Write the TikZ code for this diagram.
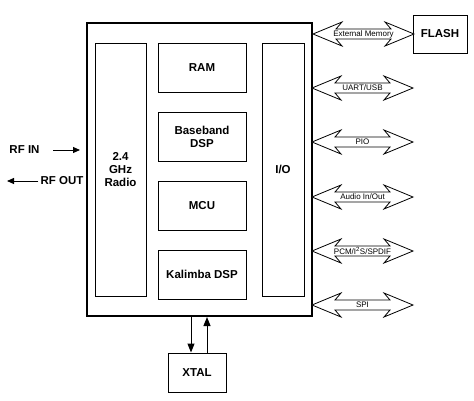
\documentclass[tikz,border=0pt]{standalone}
\usepackage{fontspec}
\setmainfont{Liberation Sans}
\usetikzlibrary{positioning,arrows.meta}

\begin{document}
\begin{tikzpicture}[x=1pt,y=-1pt,
    block/.style={rectangle,draw,line width=1pt,inner sep=1pt,align=center,
		font=\fontsize{11.5}{13}\selectfont\bfseries},
    chip/.style={rectangle,draw,line width=2pt,
		minimum width=225pt,minimum height=293pt},
    unit/.style={block,minimum width=88pt,minimum height=49pt},
    sig/.style={inner sep=2pt,font=\fontsize{11.5}{13}\selectfont\bfseries},
% Bus arrow between chip and outside world
    bus label/.style={inner sep=0pt,font=\fontsize{8}{9}\selectfont},
    busarrow/.pic={
      \draw[line width=0.8pt,fill=white] (0,0) -- (29,-12) -- (23,-5) -- (78,-5) -- (72,-12)
        -- (101,0) -- (72,12) -- (78,5) -- (23,5) -- (29,12) -- cycle;
      \node[bus label] at (50.5,0) {#1};
    },
    node distance=19pt,>={Triangle[length=9pt,width=7pt]}
    ]
    \useasboundingbox (0,0) rectangle (474,400);

    % Place nodes
    \node [chip] (chip) at (199.5,169.5) {};
    \node [block,minimum width=51pt,minimum height=253pt] (radio) at (120.5,169.5) {2.4\\GHz\\Radio};
    \node [unit] (ram) at (202,67.5) {RAM};
    \node [unit,below=of ram] (bbdsp) {Baseband\\DSP};
    \node [unit,below=of bbdsp] (mcu) {MCU};
    \node [unit,below=of mcu] (kalimba) {Kalimba DSP};
    \node [block,minimum width=42pt,minimum height=253pt] (io) at (283,169.5) {I/O};

    \node [block,minimum width=54pt,minimum height=38pt] (flash) at (440,34) {FLASH};
    \node [block,minimum width=58pt,minimum height=39pt] (xtal) at (197,372.5) {XTAL};

    \node [sig] (rfin) at (24.5,150) {RF IN};
    \node [sig] (rfout) at (62,181) {RF OUT};
    \coordinate (rfin end) at ([xshift=-6pt]chip.west |- rfin);
    \coordinate (rfout end) at (7,181);

    % Draw edges
    \draw [-{Triangle[length=7pt,width=6pt]},line width=1pt,shorten <=11.5pt] (rfin) -- (rfin end);
    \draw [-{Triangle[length=7pt,width=6pt]},line width=1pt] (rfout) -- (rfout end);

    \draw [->,line width=1pt] ([xshift=-6pt]xtal.north |- chip.south) -- ([xshift=-6pt]xtal.north);
    \draw [->,line width=1pt] ([xshift=10pt]xtal.north) -- ([xshift=10pt]xtal.north |- chip.south);

    \pic at (chip.east |- flash) {busarrow={External Memory}};
    \pic at (312,88) {busarrow={UART/USB}};
    \pic at (312,142) {busarrow={PIO}};
    \pic at (312,197) {busarrow={Audio In/Out}};
    \pic at (312,251) {busarrow={PCM/I\textsuperscript{2}S/SPDIF}};
    \pic at (312,305) {busarrow={SPI}};
\end{tikzpicture}
\end{document}
